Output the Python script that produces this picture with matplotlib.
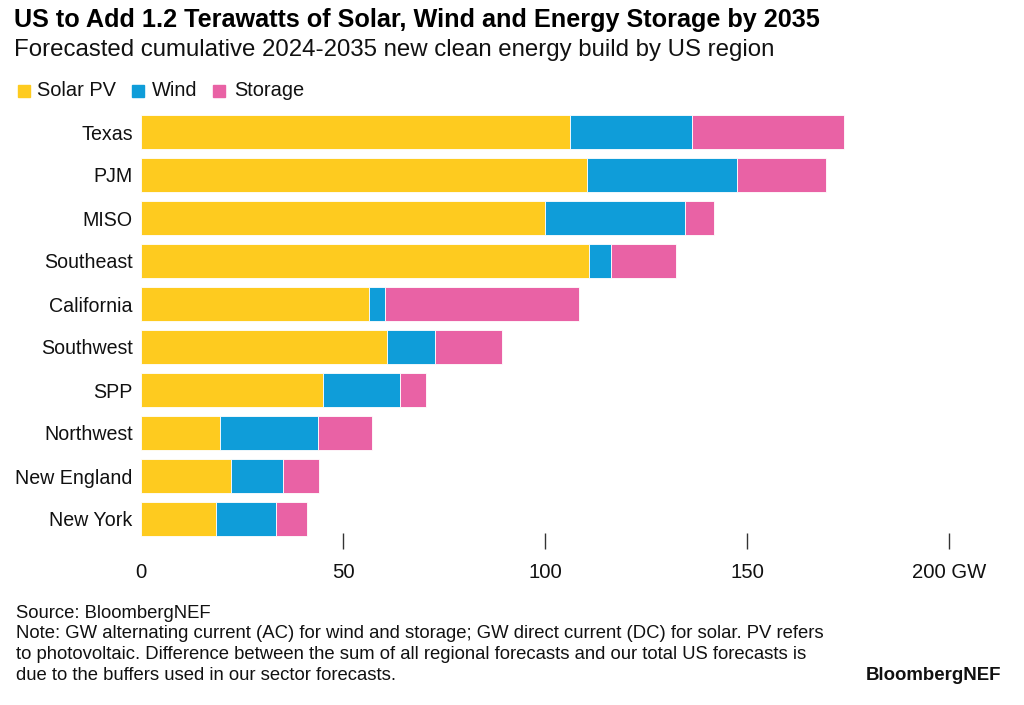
import matplotlib
matplotlib.use("Agg")
import matplotlib.pyplot as plt
from matplotlib import font_manager
from matplotlib.patches import Rectangle

regions = ["Texas", "PJM", "MISO", "Southeast", "California", "Southwest",
           "SPP", "Northwest", "New England", "New York"]
solar = [106.2, 110.3, 99.9, 110.9, 56.5, 60.9, 45.0, 19.5, 22.2, 18.5]
wind = [30.2, 37.3, 34.8, 5.4, 3.9, 11.8, 19.0, 24.4, 13.0, 14.8]
storage = [37.6, 22.0, 7.2, 16.1, 48.1, 16.6, 6.5, 13.3, 8.9, 7.8]
series_names = ["Solar PV", "Wind", "Storage"]
colors = ["#FECB1F", "#0F9DD9", "#E962A5"]
xticks = [0, 50, 100, 150, 200]
xticklabels = ["0", "50", "100", "150", "200 GW"]

avail = {f.name for f in font_manager.fontManager.ttflist}
fam = "Liberation Sans" if "Liberation Sans" in avail else "DejaVu Sans"
plt.rcParams["font.family"] = [fam, "DejaVu Sans"]

W, H = 1024, 705
fig = plt.figure(figsize=(W / 100, H / 100), dpi=100)

def fx(px):
    return px / W

def fy(py):
    return 1 - py / H

ax_left, ax_right = 141, 949
ax_top, ax_bot = 110.5, 540.5
ax = fig.add_axes([fx(ax_left), fy(ax_bot), fx(ax_right - ax_left), (ax_bot - ax_top) / H])

ypos = list(range(len(regions)))
left = [0] * len(regions)
for vals, c, name in zip([solar, wind, storage], colors, series_names):
    ax.barh(ypos, vals, left=left, height=0.8, color=c, edgecolor="white",
            linewidth=0.6, label=name)
    left = [a + b for a, b in zip(left, vals)]

ax.set_xlim(0, 200)
ax.set_ylim(len(regions) - 0.5, -0.5)
ax.set_yticks(ypos)
ax.set_yticklabels(regions, fontsize=14.1, color="#111111")
ax.set_xticks(xticks)
ax.set_xticklabels(xticklabels, fontsize=14.6, color="#111111")
ax.tick_params(axis="y", length=0, pad=6)
ax.tick_params(axis="x", length=11, width=1, color="#333333", direction="inout", pad=11)
ax.xaxis.get_major_ticks()[0].tick1line.set_visible(False)
for s in ax.spines.values():
    s.set_visible(False)

fig.text(fx(14), fy(20), "US to Add 1.2 Terawatts of Solar, Wind and Energy Storage by 2035",
         fontsize=18.2, fontweight="bold", va="center", ha="left", color="#000000")
fig.text(fx(14), fy(50), "Forecasted cumulative 2024-2035 new clean energy build by US region",
         fontsize=17.3, va="center", ha="left", color="#111111")

# legend
leg_items = [(18, 37), (132, 152), (213, 234)]
for (sx, tx), c, name in zip(leg_items, colors, series_names):
    fig.patches.append(Rectangle((fx(sx), fy(97)), fx(12), 12 / H, color=c,
                                 transform=fig.transFigure, figure=fig))
    fig.text(fx(tx), fy(91), name, fontsize=14.4, va="center", ha="left", color="#111111")

foot = ["Source: BloombergNEF",
        "Note: GW alternating current (AC) for wind and storage; GW direct current (DC) for solar. PV refers",
        "to photovoltaic. Difference between the sum of all regional forecasts and our total US forecasts is",
        "due to the buffers used in our sector forecasts."]
for i, line in enumerate(foot):
    fig.text(fx(16), fy(613 + i * 20.7), line, fontsize=13.3, va="center", ha="left", color="#111111")

fig.text(fx(1001), fy(676), "BloombergNEF", fontsize=13.4, fontweight="bold",
         va="center", ha="right", color="#111111")

fig.savefig("out.png", dpi=100)
